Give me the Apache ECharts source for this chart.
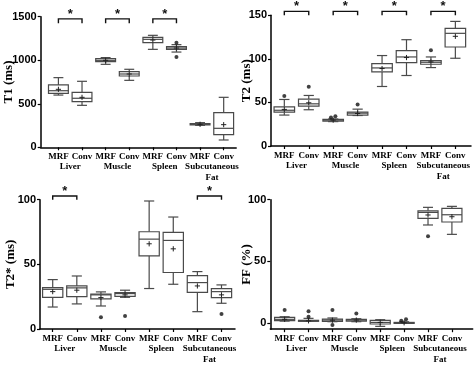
<!DOCTYPE html>
<html><head><meta charset="utf-8">
<script src="https://cdn.jsdelivr.net/npm/echarts@6/dist/echarts.min.js"></script>
<style>html,body{margin:0;padding:0;background:#fff}#c{width:474px;height:366px}</style>
</head><body><div id="c"></div>
<script>
// Categories: order = MRF Liver, Conv Liver, MRF Muscle, Conv Muscle, MRF Spleen, Conv Spleen, MRF Fat, Conv Fat
const methods = ['MRF', 'Conv'];
const tissues = ['Liver', 'Muscle', 'Spleen', 'Subcutaneous\nFat'];

// ---- T1 (ms) : [min, Q1, median, Q3, max]
const t1Box = [[600,620,650,716,800],[482,524,563,631,758],[953,984,999,1018,1030],[769,819,842,869,896],
               [1125,1202,1240,1263,1286],[1094,1125,1140,1156,1179],[252,256,264,272,283],[84,145,218,398,574]];
const t1Mean = [666,574,999,842,1232,1140,264,260];
const t1Outliers = [[5,1202],[5,1037]];
const t1Sig = [[0,1],[2,3],[4,5]];
const t1SigLevel = 1475, t1SigDrop = 50;
const t1Ticks = [0,500,1000,1500];

// ---- T2 (ms)
const t2Box = [[35.5,38.9,41,45,53.4],[41.6,45.8,48.4,53.8,58],[28,28.6,29.7,30.5,31],[35,35.5,37.7,38.9,42.3],
               [68.3,85,89.6,94.6,103.8],[80.9,95.8,102.2,109.5,122],[90,93.8,96.1,98,102.2],[100.7,113.6,129.3,135,143]];
const t2Mean = [42,49.6,29.7,37.3,88.9,101.5,96.5,125.9];
const t2Outliers = [[0,57.5],[1,67.9],[1.91,32.8],[2.09,34],[3,47.7],[6,109.8]];
const t2Sig = [[0,1],[2,3],[4,5],[6,7]];
const t2SigLevel = 154.5, t2SigDrop = 4.5;
const t2Ticks = [0,50,100,150];

// ---- T2* (ms)
const t2sBox = [[17,24.5,30.7,32,38.2],[19.4,25,31.8,33.3,41],[17.8,23.3,26.4,26.9,28.7],[24.5,25.3,27.4,28.2,30],
                [31.3,56.6,69.5,75.2,99],[34.6,43.7,68.5,74.7,86.6],[13.4,28.4,35.9,41.3,44.4],[19.9,24.3,28.9,31.3,34.1]];
const t2sMean = [28.9,30,24.3,26.4,65.9,62,33.3,26.4];
const t2sOutliers = [[2,9],[3,10],[7,11.6]];
const t2sSig = [[0,1],[6,7]];
const t2sSigLevel = 102.9, t2sSigDrop = 3;
const t2sTicks = [0,50,100];

// ---- FF (%)
const ffBox = [[1.6,1.9,3,4.6,5.1],[1.4,1.4,1.8,2.2,3.8],[1.1,1.4,2.4,3.2,4.1],[1.1,1.6,2.4,3,3.5],
               [-2.7,-0.8,0.5,2.2,2.7],[-0.3,-0.3,0.2,0.5,1],[79.5,84.9,89.7,91,93.8],[71.9,81.9,87.8,93,94.6]];
const ffMean = [3,1.8,2.3,2.4,0.5,0.2,87.6,86.2];
const ffOutliers = [[0,10.5],[1,9.5],[1,5.1],[2,10.5],[2,-1.6],[3,7.8],[4.88,1.9],[5.08,3],[6,70.3]];
const ffSig = [];
const ffSigLevel = 0, ffSigDrop = 0;
const ffTicks = [0,50,100];

const panels = [
  {name:'T1 (ms)', box:t1Box, mean:t1Mean, out:t1Outliers, sig:t1Sig, sigLevel:t1SigLevel, sigDrop:t1SigDrop, ticks:t1Ticks,
   yMin:0, yMax:1500, grid:{left:40.7, top:16.7, width:195.5, height:130.6}, xMin:-0.75, xMax:7.53, nameGap:26},
  {name:'T2 (ms)', box:t2Box, mean:t2Mean, out:t2Outliers, sig:t2Sig, sigLevel:t2SigLevel, sigDrop:t2SigDrop, ticks:t2Ticks,
   yMin:0, yMax:150, grid:{left:271, top:15.3, width:200, height:130.7}, xMin:-0.545, xMax:7.64, nameGap:17.5},
  {name:'T2* (ms)', box:t2sBox, mean:t2sMean, out:t2sOutliers, sig:t2sSig, sigLevel:t2sSigLevel, sigDrop:t2sSigDrop, ticks:t2sTicks,
   yMin:0, yMax:100, grid:{left:40, top:199.7, width:195, height:129.3}, xMin:-0.527, xMax:7.56, nameGap:23},
  {name:'FF (%)', box:ffBox, mean:ffMean, out:ffOutliers, sig:ffSig, sigLevel:ffSigLevel, sigDrop:ffSigDrop, ticks:ffTicks,
   yMin:-5, yMax:100, grid:{left:270.3, top:199.7, width:202.4, height:129.5}, xMin:-0.6, xMax:7.87, nameGap:17.3}
];

const methodPos = [0,1,2,3,4,5,6,7];
const groupPos = [0.5, 2.5, 4.5, 6.5];
function methodFmt(v) { return methods[Math.round(v) % 2]; }
function groupFmt(v) { return tissues[Math.round((v - 0.5) / 2)]; }

const STROKE = '#4a4a4a';
function renderBox(params, api) {
  const x = api.value(0);
  const lo = api.coord([x, api.value(1)]);
  const q1 = api.coord([x, api.value(2)]);
  const md = api.coord([x, api.value(3)]);
  const q3 = api.coord([x, api.value(4)]);
  const hi = api.coord([x, api.value(5)]);
  const mn = api.coord([x, api.value(6)]);
  const band = api.size([1, 0])[0];
  const bw = band * 0.84, cw = band * 0.42, pm = 2.6;
  const cx = lo[0];
  const st = {stroke: STROKE, lineWidth: 1.2, fill: null};
  return {type: 'group', children: [
    {type:'line', shape:{x1:cx, y1:hi[1], x2:cx, y2:q3[1]}, style:st},
    {type:'line', shape:{x1:cx, y1:q1[1], x2:cx, y2:lo[1]}, style:st},
    {type:'line', shape:{x1:cx-cw/2, y1:hi[1], x2:cx+cw/2, y2:hi[1]}, style:st},
    {type:'line', shape:{x1:cx-cw/2, y1:lo[1], x2:cx+cw/2, y2:lo[1]}, style:st},
    {type:'rect', shape:{x:cx-bw/2, y:q3[1], width:bw, height:q1[1]-q3[1]}, style:{stroke:STROKE, lineWidth:1.2, fill:'#fff'}},
    {type:'line', shape:{x1:cx-bw/2, y1:md[1], x2:cx+bw/2, y2:md[1]}, style:st},
    {type:'line', shape:{x1:cx-pm, y1:mn[1], x2:cx+pm, y2:mn[1]}, style:{stroke:'#222', lineWidth:1}},
    {type:'line', shape:{x1:cx, y1:mn[1]-pm, x2:cx, y2:mn[1]+pm}, style:{stroke:'#222', lineWidth:1}}
  ]};
}
function renderSig(params, api) {
  const a = api.coord([api.value(0), api.value(2)]);
  const b = api.coord([api.value(1), api.value(2)]);
  const d = api.coord([api.value(0), api.value(2) - api.value(3)]);
  return {type:'group', children:[
    {type:'polyline', shape:{points:[[a[0], d[1]], [a[0], a[1]], [b[0], b[1]], [b[0], d[1]]]},
     style:{stroke:'#111', lineWidth:1.4, fill:null}},
    {type:'text', x:(a[0]+b[0])/2, y:a[1]+2, style:{text:'*', fill:'#111', font:'bold 13px "Liberation Sans", Arial',
     align:'center', verticalAlign:'bottom'}}
  ]};
}

const SERIF = '"Liberation Serif", "Times New Roman", serif';
const grids = [], xAxes = [], yAxes = [], series = [];
panels.forEach((p, k) => {
  grids.push(Object.assign({outerBoundsMode:'none', containLabel:false}, p.grid));
  const xIdx = xAxes.length;
  xAxes.push({type:'value', gridIndex:k, position:'bottom', min:p.xMin, max:p.xMax,
    axisLine:{show:true, onZero:false, lineStyle:{color:'#000', width:1.5}},
    axisTick:{show:true, customValues:methodPos, length:3, lineStyle:{color:'#000', width:1.2}},
    axisLabel:{show:true, customValues:methodPos, formatter:methodFmt, margin:4, color:'#000',
      showMinLabel:true, showMaxLabel:true, hideOverlap:false,
      fontFamily:SERIF, fontWeight:'bold', fontSize:9, lineHeight:10.5},
    splitLine:{show:false}});
  xAxes.push({type:'value', gridIndex:k, position:'bottom', min:p.xMin, max:p.xMax,
    axisLine:{show:false, onZero:false}, axisTick:{show:false},
    axisLabel:{show:true, customValues:groupPos, formatter:groupFmt, margin:14.5, color:'#000',
      showMinLabel:true, showMaxLabel:true, hideOverlap:false,
      fontFamily:SERIF, fontWeight:'bold', fontSize:9, lineHeight:10.5},
    splitLine:{show:false}});
  yAxes.push({type:'value', gridIndex:k, min:p.yMin, max:p.yMax, name:p.name, nameLocation:'middle', nameRotate:90,
    nameGap:p.nameGap, nameMoveOverlap:false,
    nameTextStyle:{fontFamily:SERIF, fontWeight:'bold', fontSize:13, color:'#000'},
    axisLine:{show:true, onZero:false, lineStyle:{color:'#000', width:1.5}},
    axisTick:{show:true, customValues:p.ticks, length:3, lineStyle:{color:'#000', width:1.2}},
    axisLabel:{show:true, customValues:p.ticks, formatter:v => String(v), margin:4, color:'#000',
      showMinLabel:true, showMaxLabel:true,
      fontFamily:'"Liberation Sans", Arial, sans-serif', fontWeight:'bold', fontSize:11},
    splitLine:{show:false}});
  series.push({type:'custom', xAxisIndex:xIdx, yAxisIndex:k, silent:true, renderItem:renderBox,
    encode:{x:0, y:[1,2,3,4,5,6]},
    data:p.box.map((b, i) => [i].concat(b, [p.mean[i]]))});
  series.push({type:'scatter', xAxisIndex:xIdx, yAxisIndex:k, silent:true, symbol:'circle', symbolSize:4,
    itemStyle:{color:'#111'}, data:p.out, z:3});
  if (p.sig.length) series.push({type:'custom', xAxisIndex:xIdx, yAxisIndex:k, silent:true, clip:false, renderItem:renderSig,
    encode:{x:[0,1], y:2},
    data:p.sig.map(s => [s[0], s[1], p.sigLevel, p.sigDrop])});
});

const chart = echarts.init(document.getElementById('c'), null, {renderer:'canvas'});
chart.setOption({animation:false, backgroundColor:'#fff', grid:grids, xAxis:xAxes, yAxis:yAxes, series:series});
</script></body></html>
